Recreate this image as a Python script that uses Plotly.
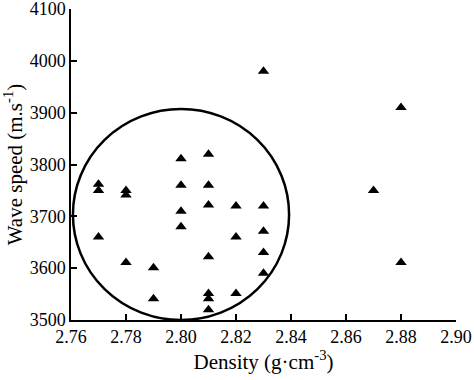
import plotly.graph_objects as go

density = [2.77, 2.77, 2.77,
           2.78, 2.78, 2.78,
           2.79, 2.79,
           2.80, 2.80, 2.80, 2.80,
           2.81, 2.81, 2.81, 2.81, 2.81, 2.81, 2.81,
           2.82, 2.82, 2.82,
           2.83, 2.83, 2.83, 2.83, 2.83,
           2.87,
           2.88, 2.88]
wave_speed = [3762, 3750, 3660,
              3750, 3741, 3611,
              3601, 3541,
              3811, 3760, 3710, 3680,
              3820, 3760, 3722, 3622, 3551, 3541, 3520,
              3720, 3660, 3551,
              3980, 3720, 3671, 3630, 3590,
              3750,
              3910, 3611]

x_ticks = [2.76, 2.78, 2.80, 2.82, 2.84, 2.86, 2.88, 2.90]
x_ticklabels = ["2.76", "2.78", "2.80", "2.82", "2.84", "2.86", "2.88", "2.90"]
y_ticks = [3500, 3600, 3700, 3800, 3900, 4000, 4100]

serif = "Liberation Serif"

fig = go.Figure()
fig.add_trace(go.Scatter(
    x=density, y=wave_speed, mode="markers",
    marker=dict(symbol="triangle-up", size=10, color="black"),
    showlegend=False, cliponaxis=False,
))

fig.add_shape(type="circle", xref="x", yref="y",
              x0=2.7607, x1=2.8393, y0=3500, y1=3907,
              line=dict(color="black", width=2.5))

fig.update_layout(
    width=474, height=380,
    margin=dict(l=71, r=18, t=9, b=60),
    paper_bgcolor="white", plot_bgcolor="white",
    font=dict(family=serif, size=18, color="black"),
    xaxis=dict(
        range=[2.76, 2.90], tickvals=x_ticks, ticktext=x_ticklabels,
        showgrid=False, zeroline=False, showline=True, linecolor="black", linewidth=1.5,
        ticks="inside", ticklen=6, tickwidth=1.5, tickcolor="black",
        automargin=False, ticklabeloverflow="allow",
        title=dict(text="Density (g·cm<sup>-3</sup>)", font=dict(family=serif, size=21, color="black"), standoff=8),
        tickfont=dict(family=serif, size=18, color="black"),
    ),
    yaxis=dict(
        range=[3500, 4100], tickvals=y_ticks,
        showgrid=False, zeroline=False, showline=True, linecolor="black", linewidth=1.5,
        ticks="inside", ticklen=6, tickwidth=1.5, tickcolor="black",
        automargin=False, ticklabeloverflow="allow",
        title=dict(text="Wave speed (m.s<sup>-1</sup>)", font=dict(family=serif, size=21, color="black"), standoff=6),
        tickfont=dict(family=serif, size=18, color="black"),
    ),
)

fig.write_html("out.html", config={"displayModeBar": False},
               post_script="document.body.style.margin='0';document.body.style.overflow='hidden';")
